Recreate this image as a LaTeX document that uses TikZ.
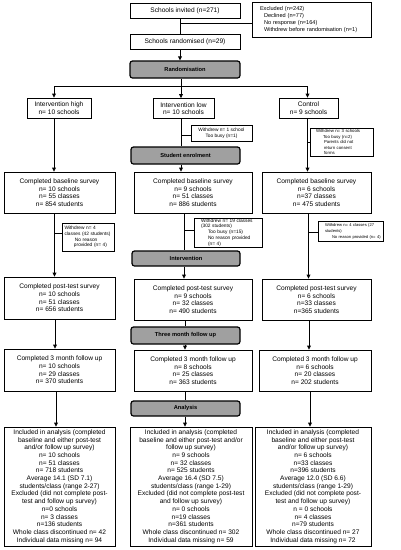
\documentclass[tikz,border=0pt]{standalone}
\usepackage{fontspec}
\setmainfont{Liberation Sans}
\usetikzlibrary{arrows.meta}
\definecolor{graybox}{RGB}{160,160,160}
\newcommand\fm{\fontsize{6.6}{7.7}\selectfont}
\newcommand\fs{\fontsize{5.6}{6.8}\selectfont}
\newcommand\fg{\fontsize{5.7}{6.5}\selectfont\bfseries}
\newcommand\fta{\fontsize{4.8}{5.8}\selectfont}
\newcommand\ftb{\fontsize{4.3}{5.5}\selectfont}
\newcommand\ftc{\fontsize{4.1}{6}\selectfont}
\newcommand\ind[1]{\hspace*{#1pt}}
\begin{document}
\begin{tikzpicture}[x=1pt,y=-1pt,
 box/.style={draw, line width=0.8pt, inner sep=0pt, align=center, font=\fm},
 gbox/.style={draw, line width=1.2pt, fill=graybox, rounded corners=2.5pt, inner sep=0pt, font=\fg},
 wbox/.style={draw, line width=0.7pt, inner sep=0pt, align=left},
 ln/.style={line width=0.8pt},
 arr/.style={line width=0.8pt, -{Triangle[length=4pt,width=3.8pt]}},
]
\useasboundingbox (0,0) rectangle (400,550);
% column coordinates
\coordinate (T0) at (180,0);
\coordinate (L1) at (54,0);   \coordinate (M1) at (181,0);   \coordinate (R1) at (307.5,0);
\coordinate (L2) at (54.5,0); \coordinate (M2) at (184,0);   \coordinate (R2) at (308.5,0);
\coordinate (L3) at (55,0);   \coordinate (M3) at (185,0);   \coordinate (R3) at (309,0);
\coordinate (L4) at (56,0);   \coordinate (M4) at (185,0);   \coordinate (R4) at (310,0);

% top
\node[box, minimum width=110pt, minimum height=15pt] (inv) at (185,10.5) {Schools invited (n=271)};
\node[wbox, font=\fs, minimum width=119pt, minimum height=35pt, text width=119pt] (exc) at (311.5,19.5)
 {\ind{8}Excluded (n=242)\\ \ind{12}Declined (n=77)\\ \ind{12}No response (n=164)\\ \ind{12}Withdrew before randomisation (n=1)};
\node[box, minimum width=110pt, minimum height=15pt] (ran) at (185,41.5) {Schools randomised (n=29)};
\node[gbox, minimum width=110pt, minimum height=17pt] (gR) at (185,69.5) {Randomisation};

% arms
\node[box, minimum width=64pt, minimum height=20pt] (ih) at (59,108) {Intervention high\\n= 10 schools};
\node[box, minimum width=61pt, minimum height=20pt] (il) at (183.5,108.5) {Intervention low\\n= 10 schools};
\node[box, minimum width=59pt, minimum height=20pt] (ic) at (308.5,108) {Control\\n= 9 schools};

\node[wbox, font=\fta, align=center, minimum width=61pt, minimum height=16pt] (w1) at (221.5,133) {Withdrew n= 1 school\\Too busy (n=1)};
\node[gbox, minimum width=109pt, minimum height=17pt] (gS) at (185.5,155.5) {Student enrolment};
\node[wbox, font=\ftb, minimum width=63pt, minimum height=28pt, text width=63pt] (w2) at (341.5,142)
 {\ind{6}Withdrew n= 3 schools\\ \ind{13}Too busy (n=2)\\ \ind{14}Parents did not\\ \ind{14}return consent\\ \ind{14}forms};

% baseline
\node[box, minimum width=111pt, minimum height=41pt] (bh) at (59.5,192.5) {Completed baseline survey\\n= 10 schools\\n= 55 classes\\n= 854 students};
\node[box, minimum width=118pt, minimum height=41pt] (bl) at (193,192.5) {Completed baseline survey\\n= 9 schools\\n= 51 classes\\n= 886 students};
\node[box, minimum width=109pt, minimum height=41pt] (bc) at (316.5,192.5) {Completed baseline survey\\n= 6 schools\\n=37 classes\\n= 475 students};

\node[wbox, font=\fta, minimum width=52pt, minimum height=28pt, text width=52pt] (w3) at (88,237)
 {\ind{2.5}Withdrew n= 4\\ \ind{2.5}classes (42 students)\\ \ind{13}No reason\\ \ind{12}provided (n= 4)};
\node[wbox, font=\fta, minimum width=68pt, minimum height=29pt, text width=68pt] (w4) at (228,232.5)
 {\ind{7}Withdrew n= 19 classes\\ \ind{7}(302 students)\\ \ind{14}Too busy (n=15)\\ \ind{14}No reason provided\\ \ind{14}(n= 4)};
\node[wbox, font=\ftc, minimum width=65pt, minimum height=20pt, text width=65pt] (w5) at (350.5,231)
 {\ind{7}Withdrew n= 4 classes (27\\ \ind{7}students)\\ \ind{14}No reason provided (n= 4)};
\node[gbox, minimum width=108pt, minimum height=15pt] (gI) at (186,258.5) {Intervention};

% post-test
\node[box, minimum width=111pt, minimum height=42pt] (ph) at (59.5,298) {Completed post-test survey\\n= 10 schools\\n= 51 classes\\n= 656 students};
\node[box, minimum width=118pt, minimum height=41pt] (pl) at (193,299.5) {Completed post-test survey\\n= 9 schools\\n= 32 classes\\n= 490 students};
\node[box, minimum width=109pt, minimum height=41pt] (pc) at (316.5,299.5) {Completed post-test survey\\n= 6 schools\\n=33 classes\\n=365 students};
\node[gbox, minimum width=109pt, minimum height=17pt] (gT) at (185.5,335.5) {Three month follow up};

% follow up
\node[box, minimum width=111pt, minimum height=42pt] (fh) at (59.5,370) {Completed 3 month follow up\\n= 10 schools\\n= 29 classes\\n= 370 students};
\node[box, minimum width=118pt, minimum height=41pt] (fl) at (193,370.5) {Completed 3 month follow up\\n= 8 schools\\n= 25 classes\\n= 363 students};
\node[box, minimum width=112pt, minimum height=41pt] (fc) at (315,370.5) {Completed 3 month follow up\\n= 6 schools\\n= 20 classes\\n= 202 students};
\node[gbox, minimum width=109pt, minimum height=15pt] (gA) at (185.5,408.5) {Analysis};

% analysis
\node[box, minimum width=111pt, minimum height=119pt] (ah) at (59.5,486.5) {Included in analysis (completed\\baseline and either post-test\\and/or follow up survey)\\n= 10 schools\\n= 51 classes\\n= 718 students\\Average 14.1 (SD 7.1)\\students/class (range 2-27)\\Excluded (did not complete post-\\test and follow up survey)\\n=0 schools\\n= 3 classes\\n=136 students\\Whole class discontinued n= 42\\Individual data missing n= 94};
\node[box, minimum width=122pt, minimum height=119pt] (al) at (191,486.5) {Included in analysis (completed\\baseline and either post-test and/or\\follow up survey)\\n= 9 schools\\n= 32 classes\\n= 525 students\\Average 16.4 (SD 7.5)\\students/class (range 1-29)\\Excluded (did not complete post-test\\and follow up survey)\\n= 0 schools\\n=19 classes\\n=361 students\\Whole class discontinued n= 302\\Individual data missing n= 59};
\node[box, minimum width=116pt, minimum height=119pt] (ac) at (313,486.5) {Included in analysis (completed\\baseline and either post-test\\and/or follow up survey)\\n= 6 schools\\n=33 classes\\n=396 students\\Average 12.0 (SD 6.6)\\students/class (range 1-29)\\Excluded (did not complete post-\\test and follow up survey)\\n = 0 schools\\n= 4 classes\\n=79 students\\Whole class discontinued n= 27\\Individual data missing n= 72};

% junction coordinates
\coordinate (jEx) at (180,23);
\coordinate (jBar) at (181,86.5);
\coordinate (jW1) at (181,135);
\coordinate (jW2) at (307.5,142);
\coordinate (jW3) at (54.5,233);
\coordinate (jW4) at (184,230);
\coordinate (jW5) at (308.5,232);

% connectors top
\draw[ln] (inv.south -| T0) -- (ran.north -| T0);
\draw[ln] (jEx) -- (jEx -| exc.west);
\draw[arr] (ran.south -| T0) -- (gR.north -| T0);
\draw[ln] (gR.south -| jBar) -- (jBar);
\draw[ln] (jBar -| L1) -- (jBar -| R1);
\draw[arr] (jBar -| L1) -- (ih.north -| L1);
\draw[arr] (jBar -| M1) -- (il.north -| M1);
\draw[arr] (jBar -| R1) -- (ic.north -| R1);

% arms to baseline
\draw[arr] (ih.south -| L1) -- (bh.north -| L1);
\draw[ln] (il.south -| M1) -- (gS.north -| M1);
\draw[ln] (jW1) -- (jW1 -| w1.west);
\draw[arr] (gS.south -| M1) -- (bl.north -| M1);
\draw[arr] (ic.south -| R1) -- (bc.north -| R1);
\draw[ln] (jW2) -- (jW2 -| w2.west);

% baseline to post
\draw[arr] (bh.south -| L2) -- (ph.north -| L2);
\draw[ln] (jW3) -- (jW3 -| w3.west);
\draw[ln] (bl.south -| M2) -- (gI.north -| M2);
\draw[ln] (jW4) -- (jW4 -| w4.west);
\draw[arr] (gI.south -| M2) -- (pl.north -| M2);
\draw[arr] (bc.south -| R2) -- (pc.north -| R2);
\draw[ln] (jW5) -- (jW5 -| w5.west);

% post to follow up
\draw[arr] (ph.south -| L3) -- (fh.north -| L3);
\draw[ln] (pl.south -| M3) -- (gT.north -| M3);
\draw[arr] (gT.south -| M3) -- (fl.north -| M3);
\draw[arr] (pc.south -| R3) -- (fc.north -| R3);

% follow up to analysis
\draw[arr] (fh.south -| L4) -- (ah.north -| L4);
\draw[ln] (fl.south -| M4) -- (gA.north -| M4);
\draw[arr] (gA.south -| M4) -- (al.north -| M4);
\draw[arr] (fc.south -| R4) -- (ac.north -| R4);
\end{tikzpicture}
\end{document}
